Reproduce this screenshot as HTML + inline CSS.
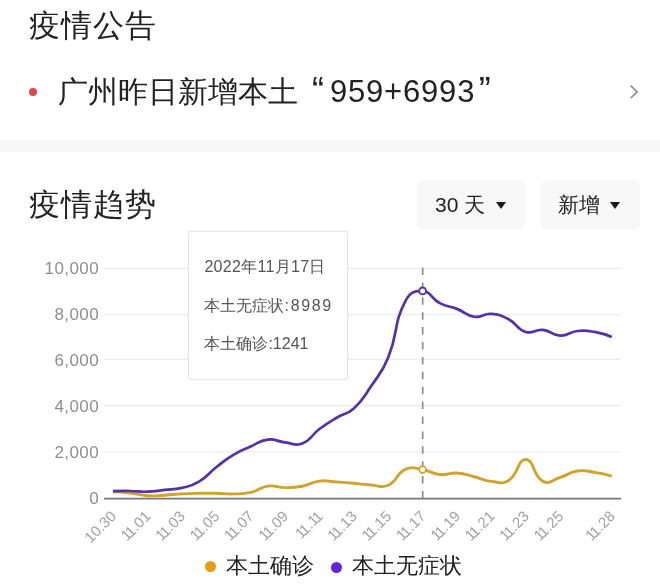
<!DOCTYPE html>
<html><head><meta charset="utf-8">
<style>
*{margin:0;padding:0;box-sizing:border-box}
html,body{width:660px;height:587px;overflow:hidden;background:#fff;-webkit-font-smoothing:antialiased;font-family:"Liberation Sans",sans-serif;color:#222}
.abs{position:absolute;white-space:nowrap;line-height:1;will-change:transform}
#t1{left:29.4px;top:10.3px;font-size:31px;letter-spacing:1px;color:#222}
#dot{left:28.8px;top:88.2px;width:8.4px;height:8.4px;border-radius:50%;background:#dd4850}
#news{left:58px;top:76px;font-size:30px;color:#222}
.q{display:inline-block;position:relative;top:-0.5px;font-size:36px;line-height:30px;vertical-align:top}
.dg{font-size:31px;letter-spacing:0.8px}
#chev{left:628px;top:84px;width:14px;height:20px}
#band{left:0;top:140.2px;width:660px;height:11.6px;background:#f7f7f7}
#t2{left:29.2px;top:189.3px;font-size:31px;letter-spacing:1px;color:#222}
.btn{will-change:transform;position:absolute;top:180px;height:50px;background:#f8f8f8;border-radius:7px}
#b1{left:417px;width:108px}
#b2{left:540px;width:100px}
.btxt{position:absolute;top:14px;font-size:21px;line-height:1;color:#222;white-space:nowrap}
.tri{position:absolute;top:22px;width:0;height:0;border-left:5px solid transparent;border-right:5px solid transparent;border-top:7px solid #1a1a1a}
svg{position:absolute;left:0;top:0;will-change:transform}
#tip{left:188.4px;top:230.8px;width:160px;height:148.6px;background:#fff;border:1.6px solid #e5e5e5;border-radius:2px;box-shadow:0 0 2px rgba(0,0,0,0.05)}
.tl{position:absolute;left:15.4px;font-size:16px;color:#555;line-height:1}
.leg{font-size:22px;color:#222}
.ldot{position:absolute;width:11px;height:11px;border-radius:50%}
</style></head><body>
<div class="abs" id="t1">疫情公告</div>
<div class="abs" id="dot"></div>
<div class="abs" id="news">广州昨日新增本土<span class="q" style="margin-left:14px">“</span><span class="dg" style="margin-left:6px">959+6993</span><span class="q" style="margin-left:3.5px">”</span></div>
<svg id="chev" class="abs" style="left:626px;top:84px" width="14" height="20" viewBox="0 0 14 20"><path d="M4.7,1.7 L11.2,7.9 L4.7,14" fill="none" stroke="#8c8c8c" stroke-width="1.6"/></svg>
<div class="abs" id="band"></div>
<div class="abs" id="t2">疫情趋势</div>
<div class="btn" id="b1"><div class="btxt" style="left:18px">30 天</div><div class="tri" style="left:79px"></div></div>
<div class="btn" id="b2"><div class="btxt" style="left:18px">新增</div><div class="tri" style="left:70px"></div></div>

<svg width="660" height="587" viewBox="0 0 660 587" style="font-family:'Liberation Sans',sans-serif">
  <g stroke="#ebebeb" stroke-width="1.2">
    <line x1="104" y1="268.4" x2="621" y2="268.4"/>
    <line x1="104" y1="314.7" x2="621" y2="314.7"/>
    <line x1="104" y1="359.4" x2="621" y2="359.4"/>
    <line x1="104" y1="405.7" x2="621" y2="405.7"/>
    <line x1="104" y1="451.9" x2="621" y2="451.9"/>
  </g>
  <line x1="104" y1="498.7" x2="621.2" y2="498.7" stroke="#777" stroke-width="1.8"/>
  <g font-size="17" fill="#8e8e8e" text-anchor="end" letter-spacing="0.4">
    <text x="99" y="273.8">10,000</text>
    <text x="99" y="319.8">8,000</text>
    <text x="99" y="365.8">6,000</text>
    <text x="99" y="411.8">4,000</text>
    <text x="99" y="457.8">2,000</text>
    <text x="99" y="503.8">0</text>
  </g>
  <g font-size="15" fill="#a3a3a3" text-anchor="end">
<text x="113.3" y="513.2" dominant-baseline="central" transform="rotate(-45 113.3 513.2)">10.30</text>
<text x="147.7" y="513.2" dominant-baseline="central" transform="rotate(-45 147.7 513.2)">1<tspan dx="-1.8">1</tspan>.01</text>
<text x="182.1" y="513.2" dominant-baseline="central" transform="rotate(-45 182.1 513.2)">1<tspan dx="-1.8">1</tspan>.03</text>
<text x="216.5" y="513.2" dominant-baseline="central" transform="rotate(-45 216.5 513.2)">1<tspan dx="-1.8">1</tspan>.05</text>
<text x="250.9" y="513.2" dominant-baseline="central" transform="rotate(-45 250.9 513.2)">1<tspan dx="-1.8">1</tspan>.07</text>
<text x="285.3" y="513.2" dominant-baseline="central" transform="rotate(-45 285.3 513.2)">1<tspan dx="-1.8">1</tspan>.09</text>
<text x="319.7" y="513.2" dominant-baseline="central" transform="rotate(-45 319.7 513.2)">1<tspan dx="-1.8">1</tspan>.1<tspan dx="-1.8">1</tspan></text>
<text x="354.1" y="513.2" dominant-baseline="central" transform="rotate(-45 354.1 513.2)">1<tspan dx="-1.8">1</tspan>.13</text>
<text x="388.5" y="513.2" dominant-baseline="central" transform="rotate(-45 388.5 513.2)">1<tspan dx="-1.8">1</tspan>.15</text>
<text x="422.9" y="513.2" dominant-baseline="central" transform="rotate(-45 422.9 513.2)">1<tspan dx="-1.8">1</tspan>.17</text>
<text x="457.3" y="513.2" dominant-baseline="central" transform="rotate(-45 457.3 513.2)">1<tspan dx="-1.8">1</tspan>.19</text>
<text x="491.7" y="513.2" dominant-baseline="central" transform="rotate(-45 491.7 513.2)">1<tspan dx="-1.8">1</tspan>.21</text>
<text x="526.1" y="513.2" dominant-baseline="central" transform="rotate(-45 526.1 513.2)">1<tspan dx="-1.8">1</tspan>.23</text>
<text x="560.5" y="513.2" dominant-baseline="central" transform="rotate(-45 560.5 513.2)">1<tspan dx="-1.8">1</tspan>.25</text>
<text x="612.1" y="513.2" dominant-baseline="central" transform="rotate(-45 612.1 513.2)">1<tspan dx="-1.8">1</tspan>.28</text>
</g>
  <line x1="422.7" y1="267.5" x2="422.7" y2="498" stroke="#8e8e8e" stroke-width="1.7" stroke-dasharray="7.5,7.4"/>
  <path d="M113.00,491.90 C113.00,491.90 121.64,492.07 130.20,493.01 C138.84,493.97 138.75,495.16 147.40,495.71 C155.95,496.25 156.01,495.65 164.60,495.20 C173.21,494.75 173.19,494.38 181.80,493.91 C190.39,493.44 190.40,493.47 199.00,493.31 C207.60,493.15 207.60,493.12 216.20,493.27 C224.80,493.42 224.81,494.12 233.40,493.91 C242.01,493.70 242.26,494.33 250.60,492.44 C259.46,490.43 258.94,487.36 267.80,486.12 C276.14,484.94 276.40,487.57 285.00,487.59 C293.60,487.62 293.77,487.79 302.20,486.21 C310.97,484.56 310.63,482.22 319.40,481.14 C327.83,480.09 328.01,481.42 336.60,481.94 C345.21,482.46 345.21,482.43 353.80,483.21 C362.41,483.99 362.38,484.54 371.00,485.06 C379.58,485.57 380.92,488.61 388.20,485.29 C398.12,480.76 395.48,473.88 405.40,469.35 C412.68,466.03 414.17,468.31 422.60,469.58 C431.37,470.91 431.04,473.68 439.80,474.56 C448.24,475.42 448.48,472.52 457.00,473.06 C465.68,473.62 465.65,474.69 474.20,476.75 C482.85,478.84 482.66,480.43 491.40,481.37 C499.86,482.27 501.92,484.70 508.60,480.44 C519.12,473.74 517.31,459.23 525.80,459.46 C534.51,459.69 532.47,475.86 543.00,481.37 C549.67,484.85 551.77,479.99 560.20,477.45 C568.97,474.80 568.53,472.30 577.40,470.99 C585.73,469.76 586.08,471.11 594.60,472.37 C603.28,473.66 611.80,476.09 611.80,476.09" fill="none" stroke="#d2a22e" stroke-width="2.9" stroke-linejoin="round"/>
  <path d="M113.00,491.21 C113.00,491.21 121.60,490.88 130.20,491.01 C138.80,491.13 138.82,491.99 147.40,491.72 C156.02,491.45 156.01,490.87 164.60,489.92 C173.21,488.97 173.44,489.94 181.80,487.92 C190.64,485.78 191.25,486.24 199.00,481.60 C208.45,475.93 207.38,474.16 216.20,467.30 C224.58,460.79 224.34,460.31 233.40,454.85 C241.54,449.93 241.87,450.41 250.60,446.55 C259.07,442.80 258.93,440.70 267.80,439.63 C276.13,438.62 276.35,441.41 285.00,442.39 C293.55,443.37 294.74,446.45 302.20,443.55 C311.94,439.76 310.41,435.77 319.40,429.02 C327.61,422.85 327.77,422.99 336.60,417.72 C344.97,412.73 346.74,414.93 353.80,408.50 C363.94,399.25 363.17,397.96 371.00,386.36 C380.37,372.47 381.97,372.99 388.20,357.53 C399.17,330.33 392.54,325.93 405.40,301.04 C409.74,292.62 414.24,290.41 422.60,290.91 C431.44,291.45 430.55,298.28 439.80,303.11 C447.75,307.27 448.58,305.55 457.00,308.88 C465.78,312.35 465.25,315.40 474.20,316.72 C482.45,317.93 482.94,313.33 491.40,313.95 C500.14,314.60 500.74,315.14 508.60,319.25 C517.94,324.14 516.30,329.01 525.80,331.94 C533.50,334.31 534.60,328.96 543.00,329.86 C551.80,330.81 551.52,335.34 560.20,335.63 C568.72,335.91 568.66,331.95 577.40,331.01 C585.86,330.11 586.17,330.48 594.60,331.94 C603.37,333.45 611.80,336.94 611.80,336.94" fill="none" stroke="#5630a4" stroke-width="2.7" stroke-linejoin="round"/>
  <circle cx="422.60" cy="290.91" r="3.4" fill="#fff" stroke="#5630a4" stroke-width="1.8"/>
  <circle cx="422.60" cy="469.58" r="3.4" fill="#fff" stroke="#d2a22e" stroke-width="1.8"/>
</svg>

<div class="abs" id="tip">
  <div class="tl" style="top:27px;letter-spacing:0.3px">2022年11月17日</div>
  <div class="tl" style="top:65.6px">本土无症状:<span style="margin-left:2px;letter-spacing:1.6px">8989</span></div>
  <div class="tl" style="top:103.8px">本土确诊:1241</div>
</div>

<div class="ldot" style="left:205px;top:561px;background:#e69c12"></div>
<div class="abs leg" style="left:226px;top:555px">本土确诊</div>
<div class="ldot" style="left:331px;top:562px;background:#6424d8"></div>
<div class="abs leg" style="left:352px;top:555px">本土无症状</div>
</body></html>
